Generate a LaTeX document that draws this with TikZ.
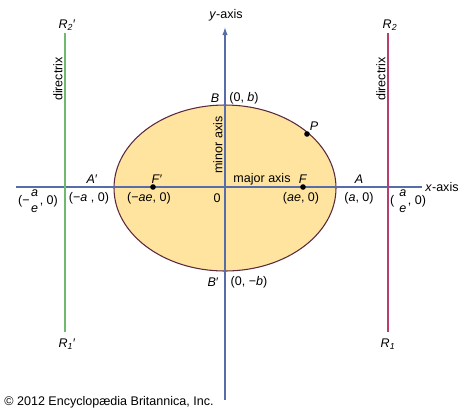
\documentclass[tikz,border=0pt]{standalone}
\usepackage{fontspec}
\setmainfont{Liberation Sans}
\usepackage{xcolor}
\usetikzlibrary{arrows.meta}
\definecolor{axisblue}{RGB}{88,108,168}
\definecolor{dirgreen}{RGB}{112,186,112}
\definecolor{dirred}{RGB}{186,62,108}
\definecolor{ellfill}{RGB}{255,228,160}
\definecolor{ellline}{RGB}{92,42,62}
\newcommand{\aovere}{\(\displaystyle{\textit{a}\atop\textit{e}}\)}

\begin{document}
\begin{tikzpicture}[x=0.75pt,y=-0.75pt,font=\fontsize{9.4}{11}\selectfont,
    axis/.style={draw=axisblue,line width=0.9pt},
    lbl/.style={inner sep=0pt},
    focus/.style={circle,fill=black,inner sep=0pt,minimum size=4.2pt}]
                \useasboundingbox (0,0) rectangle (474,412);
                % ellipse
                \fill[ellfill] (225,188) ellipse [x radius=111, y radius=83];
                \draw[ellline,line width=0.8pt] (225,188) ellipse [x radius=111, y radius=83];

                % Draw axis
                \coordinate (xl) at (16,187);
                \coordinate (xr) at (422,187);
                \coordinate (yb) at (225,400);
                \coordinate (yt) at (225,27);
                \draw[axis] (xl) -- (xr);
                \draw[axis,-{Latex[length=6pt,width=4pt]}] (yb) -- (yt);
                \node[lbl] (xlabel) at (442,187) {\textit{x}-axis};
                \node[lbl] (ylabel) at (226,15) {\textit{y}-axis};

                % directrices
                \coordinate (dl1) at (65,33);
                \coordinate (dl2) at (65,332);
                \coordinate (dr1) at (388,33);
                \coordinate (dr2) at (388,332);
                \draw[dirgreen,line width=0.8pt] (dl1) -- (dl2);
                \draw[dirred,line width=0.8pt] (dr1) -- (dr2);
                \node[lbl,rotate=90] (dirl) at (58,79) {directrix};
                \node[lbl,rotate=90] (dirr) at (381,79) {directrix};
                \node[lbl] (R2p) at (67,25) {\textit{R}\textsubscript{\textit{2}}′};
                \node[lbl] (R2) at (390,25) {\textit{R}\textsubscript{\textit{2}}};
                \node[lbl] (R1p) at (67,344) {\textit{R}\textsubscript{\textit{1}}′};
                \node[lbl] (R1) at (388,344) {\textit{R}\textsubscript{\textit{1}}};

                % foci and point
                \node[focus] (Fp) at (153,187) {};
                \node[focus] (F) at (303,187) {};
                \node[focus] (P) at (307,134) {};
                \node[lbl] (Fplabel) at (157,179) {\textit{F}′};
                \node[lbl] (Flabel) at (303,179) {\textit{F}};
                \node[lbl] (Plabel) at (314,126) {\textit{P}};

                % vertices
                \node[lbl] (Ap) at (92,179) {\textit{A}′};
                \node[lbl] (A) at (359,179) {\textit{A}};
                \node[lbl] (B) at (215,98) {\textit{B}};
                \node[lbl] (Bp) at (213,282) {\textit{B}′};
                \node[lbl] (Bc) at (244,98) {(0, \textit{b})};
                \node[lbl] (Bpc) at (249,282) {(0, −\textit{b})};
                \node[lbl,rotate=90] (minor) at (218,145) {minor axis};
                \node[lbl] (major) at (262,179) {major axis};

                % coordinates on x axis
                \node[lbl] (dlc) at (38,201) {(−\aovere, 0)};
                \node[lbl] (Apc) at (89,198) {(−\textit{a} , 0)};
                \node[lbl] (Fpc) at (149,198) {(−\textit{ae}, 0)};
                \node[lbl] (O) at (217,198) {0};
                \node[lbl] (Fc) at (301,198) {(\textit{ae}, 0)};
                \node[lbl] (Ac) at (359,198) {(\textit{a}, 0)};
                \node[lbl] (drc) at (408,201) {( \aovere, 0)};

                \node[lbl] (copy) at (109,402) {© 2012 Encyclopædia Britannica, Inc.};
            \end{tikzpicture}
\end{document}
